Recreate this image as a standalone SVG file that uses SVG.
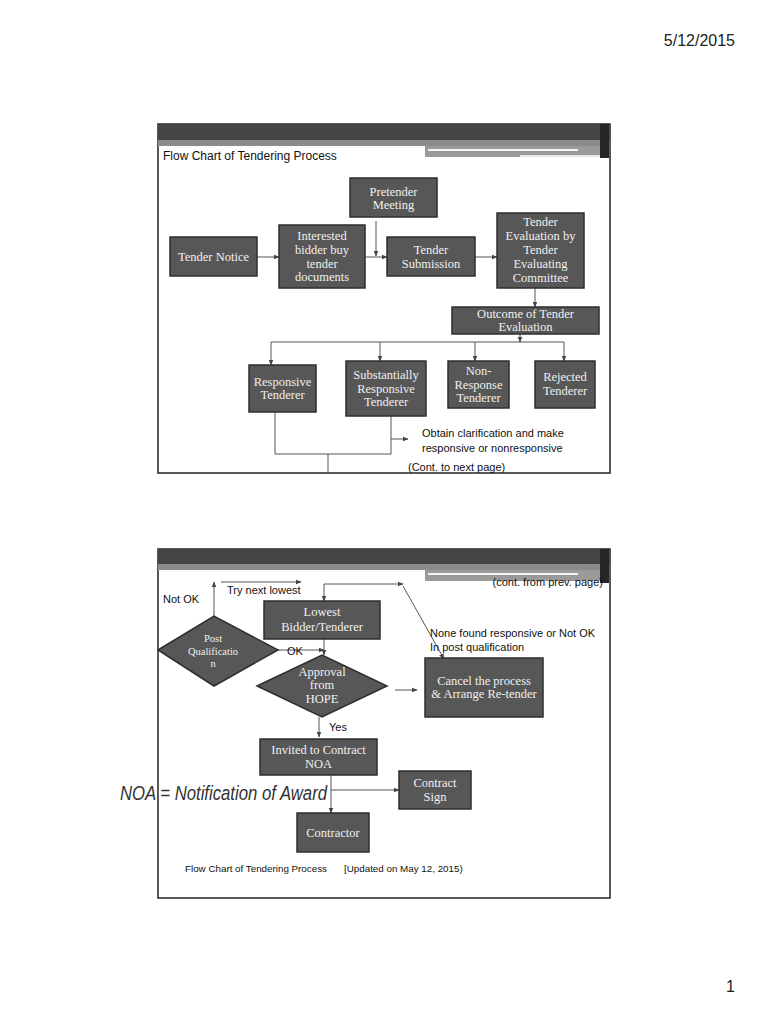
<svg xmlns="http://www.w3.org/2000/svg" width="768" height="1024" viewBox="0 0 768 1024">
<style>
.frame{fill:#fff;stroke:#222;stroke-width:1.5}
.box{fill:#575757;stroke:#2e2e2e;stroke-width:1.5}
.nt{font-family:"Liberation Serif","DejaVu Serif",serif;font-size:12.5px;fill:#f0f0f0;text-anchor:middle}
.lbl{font-family:"Liberation Sans",Arial,sans-serif;font-size:11px;fill:#111}
.ttl{font-family:"Liberation Sans",Arial,sans-serif;font-size:12px;fill:#111}
.ln{fill:none;stroke:#555;stroke-width:1}
.ar{fill:none;stroke:#555;stroke-width:1;marker-end:url(#ah)}
</style>
<defs>
<marker id="ah" viewBox="0 0 10 10" refX="9" refY="5" markerWidth="6" markerHeight="6" orient="auto" markerUnits="userSpaceOnUse">
<path d="M0,1 L10,5 L0,9 z" fill="#444"/>
</marker>
</defs>
<rect width="768" height="1024" fill="#fff"/>
<text x="735" y="46" font-family="Liberation Sans,Arial,sans-serif" font-size="16" fill="#222" text-anchor="end">5/12/2015</text>
<text x="735" y="992" font-family="Liberation Sans,Arial,sans-serif" font-size="16" fill="#222" text-anchor="end">1</text>

<!-- Slide 1 -->
<g id="slide1">
<rect class="frame" x="158" y="124" width="452" height="349"/>
<rect x="158" y="124" width="452" height="16" fill="#454545"/>
<rect x="158" y="140" width="446" height="6" fill="#8c8c8c"/>
<rect x="425" y="146" width="179" height="11" fill="#9a9a9a"/>
<rect x="428" y="149" width="150" height="2" fill="#f4f4f4"/>
<rect x="520" y="155" width="84" height="2" fill="#e8e8e8"/>
<rect x="600" y="124" width="9" height="34" fill="#262626"/>
<text class="ttl" x="163" y="160">Flow Chart of Tendering Process</text>
</g>

<g id="connectors1">
<line class="ar" x1="257" y1="257" x2="279" y2="257"/>
<line class="ar" x1="365" y1="257" x2="387" y2="257"/>
<line class="ar" x1="376" y1="221" x2="376" y2="256"/>
<line class="ar" x1="475" y1="257" x2="497" y2="257"/>
<line class="ar" x1="535" y1="288" x2="535" y2="307"/>
<line class="ar" x1="520" y1="334" x2="520" y2="342"/>
<line class="ln" x1="271" y1="342" x2="564" y2="342"/>
<line class="ar" x1="271" y1="342" x2="271" y2="365"/>
<line class="ar" x1="380" y1="342" x2="380" y2="361"/>
<line class="ar" x1="475" y1="342" x2="475" y2="361"/>
<line class="ar" x1="564" y1="342" x2="564" y2="361"/>
<polyline class="ln" points="275,412 275,454 391,454 391,416"/>
<line class="ar" x1="391" y1="439" x2="408" y2="439"/>
<line class="ln" x1="328" y1="454" x2="328" y2="474"/>
</g>

<g id="n-pretender"><rect class="box" x="350" y="178" width="87" height="39"/><text class="nt" x="393.5" y="196">Pretender</text><text class="nt" x="393.5" y="209">Meeting</text></g>
<g id="n-notice"><rect class="box" x="170" y="237" width="87" height="39"/><text class="nt" x="213.5" y="261">Tender Notice</text></g>
<g id="n-interested"><rect class="box" x="279" y="225" width="86" height="63"/><text class="nt" x="322" y="240">Interested</text><text class="nt" x="322" y="254">bidder buy</text><text class="nt" x="322" y="268">tender</text><text class="nt" x="322" y="281">documents</text></g>
<g id="n-submission"><rect class="box" x="387" y="237" width="88" height="39"/><text class="nt" x="431" y="254">Tender</text><text class="nt" x="431" y="268">Submission</text></g>
<g id="n-evaluation"><rect class="box" x="497" y="213" width="87" height="75"/><text class="nt" x="540.5" y="226">Tender</text><text class="nt" x="540.5" y="240">Evaluation by</text><text class="nt" x="540.5" y="254">Tender</text><text class="nt" x="540.5" y="268">Evaluating</text><text class="nt" x="540.5" y="282">Committee</text></g>
<g id="n-outcome"><rect class="box" x="452" y="307" width="147" height="27"/><text class="nt" x="525.5" y="318">Outcome of Tender</text><text class="nt" x="525.5" y="331">Evaluation</text></g>
<g id="n-responsive"><rect class="box" x="249" y="365" width="67" height="47"/><text class="nt" x="282.5" y="386">Responsive</text><text class="nt" x="282.5" y="399">Tenderer</text></g>
<g id="n-substantially"><rect class="box" x="346" y="361" width="80" height="55"/><text class="nt" x="386" y="379">Substantially</text><text class="nt" x="386" y="393">Responsive</text><text class="nt" x="386" y="406">Tenderer</text></g>
<g id="n-nonresponse"><rect class="box" x="448" y="361" width="61" height="47"/><text class="nt" x="478.5" y="375">Non-</text><text class="nt" x="478.5" y="389">Response</text><text class="nt" x="478.5" y="402">Tenderer</text></g>
<g id="n-rejected"><rect class="box" x="535" y="361" width="60" height="47"/><text class="nt" x="565" y="381">Rejected</text><text class="nt" x="565" y="395">Tenderer</text></g>
<text class="lbl" x="422" y="437">Obtain clarification and make</text>
<text class="lbl" x="422" y="452">responsive or nonresponsive</text>
<text class="lbl" x="408" y="471">(Cont. to next page)</text>

<!-- Slide 2 -->
<g id="slide2">
<rect class="frame" x="158" y="549" width="452" height="349"/>
<rect x="158" y="549" width="452" height="15" fill="#454545"/>
<rect x="158" y="564" width="446" height="6" fill="#8c8c8c"/>
<rect x="425" y="570" width="179" height="11" fill="#9a9a9a"/>
<rect x="428" y="573" width="150" height="2" fill="#f4f4f4"/>
<rect x="600" y="549" width="9" height="34" fill="#262626"/>
<text class="lbl" x="603" y="586" text-anchor="end">(cont. from prev. page)</text>
</g>

<g id="connectors2">
<line class="ar" x1="214" y1="616" x2="214" y2="582"/>
<line class="ar" x1="221" y1="582" x2="301" y2="582"/>
<line class="ar" x1="324" y1="584" x2="324" y2="601"/>
<line class="ar" x1="324" y1="584" x2="403" y2="584"/>
<line class="ar" x1="403" y1="586" x2="444" y2="659"/>
<line class="ar" x1="278" y1="650" x2="324" y2="650"/>
<line class="ar" x1="324" y1="639" x2="324" y2="655"/>
<line class="ar" x1="395" y1="690" x2="417" y2="690"/>
<line class="ar" x1="319" y1="717" x2="319" y2="737"/>
<line class="ar" x1="331" y1="775" x2="331" y2="813"/>
<line class="ar" x1="331" y1="790" x2="399" y2="790"/>
</g>

<text class="lbl" x="163" y="603">Not OK</text>
<text class="lbl" x="227" y="594">Try next lowest</text>
<text class="lbl" x="287" y="655">OK</text>
<text class="lbl" x="329" y="731">Yes</text>
<text class="lbl" x="430" y="637">None found responsive or Not OK</text>
<text class="lbl" x="430" y="651">In post qualification</text>

<g id="n-lowest"><rect class="box" x="264" y="601" width="116" height="38"/><text class="nt" x="322" y="616">Lowest</text><text class="nt" x="322" y="631">Bidder/Tenderer</text></g>
<g id="n-postqual"><polygon class="box" points="158,650 214,616 278,650 214,686"/><text class="nt" x="213" y="642" style="font-size:10.5px">Post</text><text class="nt" x="213" y="655" style="font-size:10.5px">Qualificatio</text><text class="nt" x="213" y="667" style="font-size:10.5px">n</text></g>
<g id="n-approval"><polygon class="box" points="257,686 322,655 387,686 322,717"/><text class="nt" x="322" y="676">Approval</text><text class="nt" x="322" y="689">from</text><text class="nt" x="322" y="703">HOPE</text></g>
<g id="n-cancel"><rect class="box" x="425" y="658" width="118" height="59"/><text class="nt" x="484" y="685">Cancel the process</text><text class="nt" x="484" y="698">&amp; Arrange Re-tender</text></g>
<g id="n-invited"><rect class="box" x="260" y="739" width="117" height="36"/><text class="nt" x="318.5" y="754">Invited to Contract</text><text class="nt" x="318.5" y="768">NOA</text></g>
<g id="n-contractsign"><rect class="box" x="399" y="771" width="72" height="38"/><text class="nt" x="435" y="787">Contract</text><text class="nt" x="435" y="801">Sign</text></g>
<g id="n-contractor"><rect class="box" x="297" y="813" width="72" height="39"/><text class="nt" x="333" y="837">Contractor</text></g>

<text x="120" y="800" font-family="Liberation Sans,Arial,sans-serif" font-style="italic" font-size="20" fill="#333" textLength="207" lengthAdjust="spacingAndGlyphs">NOA = Notification of Award</text>
<text x="185" y="872" font-family="Liberation Sans,Arial,sans-serif" font-size="9.8" fill="#111">Flow Chart of Tendering Process</text>
<text x="344" y="872" font-family="Liberation Sans,Arial,sans-serif" font-size="9.8" fill="#111">[Updated on May 12, 2015)</text>
</svg>
